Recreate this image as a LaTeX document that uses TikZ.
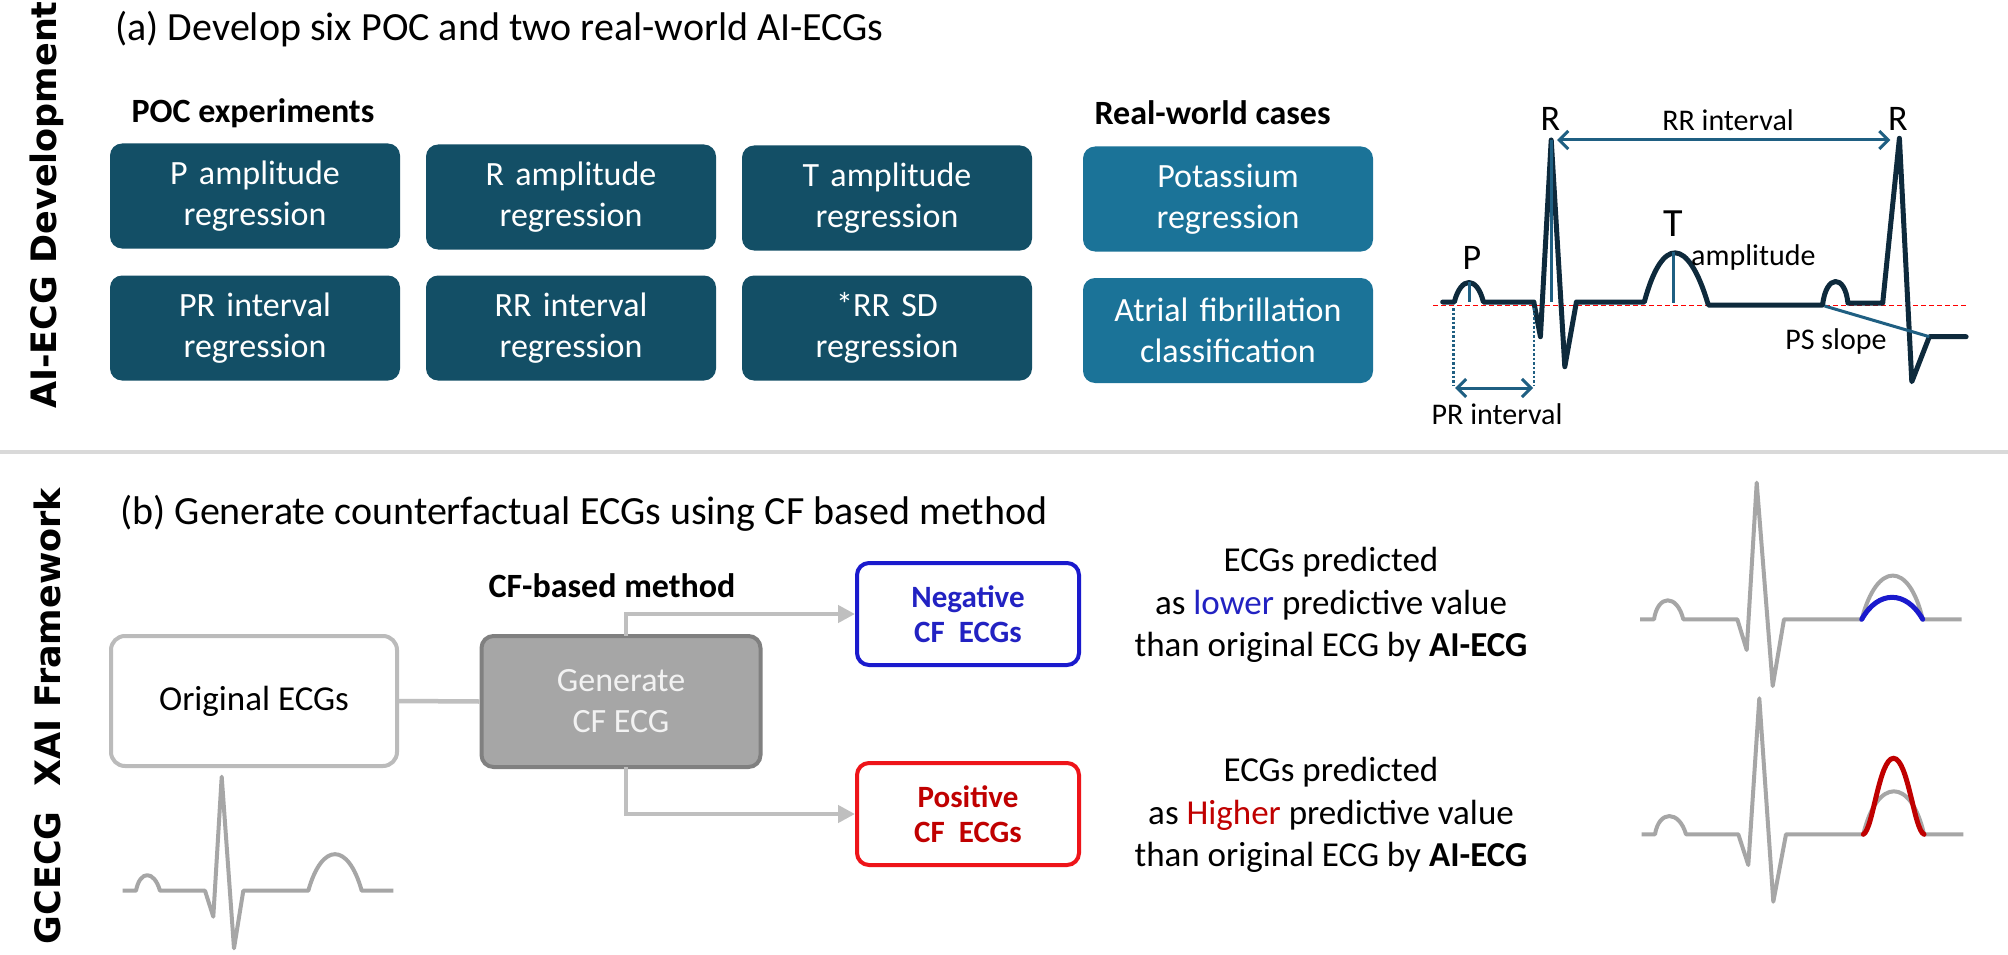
\documentclass[tikz,border=0pt]{standalone}
\usepackage{fontspec}
\setmainfont{Carlito}
\newfontfamily\vfont{DejaVu Sans}
\usetikzlibrary{arrows.meta}
\definecolor{poc}{HTML}{134F66}
\definecolor{rw}{HTML}{1B7398}
\definecolor{ecgc}{HTML}{0E2A3C}
\definecolor{ann}{HTML}{1F5F82}
\definecolor{lgray}{HTML}{A6A6A6}
\definecolor{cgray}{HTML}{BFBFBF}
\definecolor{bgray}{HTML}{808080}
\definecolor{obox}{HTML}{BBBBBB}
\definecolor{sepc}{HTML}{D9D9D9}
\definecolor{negc}{HTML}{1A1ACD}
\definecolor{negt}{HTML}{2222C2}
\definecolor{posc}{HTML}{EE1419}
\definecolor{post}{HTML}{C00000}
\begin{document}
\begin{tikzpicture}[x=1pt,y=-1pt,
  pocbox/.style={fill=poc, rounded corners=12pt, minimum width=290pt, minimum height=105pt,
    text width=285pt, align=center, text=white, inner sep=0pt, font=\fontsize{34}{41}\selectfont},
  rwbox/.style={pocbox, fill=rw},
  head/.style={anchor=west, font=\bfseries\fontsize{34}{40}\selectfont},
  title/.style={anchor=west, font=\fontsize{40}{48}\selectfont},
  vlabel/.style={rotate=90, font=\vfont\bfseries\fontsize{35}{40}\selectfont},
  ecgtrace/.style={draw=ecgc, line width=5pt, line join=round, line cap=round},
  annline/.style={draw=ann, line width=3pt},
  dim/.style={draw=ann, line width=3pt, {Straight Barb[length=9pt,width=18pt]}-{Straight Barb[length=9pt,width=18pt]}},
  lab/.style={font=\fontsize{30}{36}\selectfont, inner sep=0pt},
  conn/.style={draw=cgray, line width=4.5pt},
  arr/.style={conn, -{Triangle[length=17pt,width=17pt]}},
  graytrace/.style={draw=lgray, line width=4pt, line join=round},
  txt/.style={align=center, font=\fontsize{35}{42.5}\selectfont},
]
\useasboundingbox (0,0) rectangle (2008,955);
\fill[white] (0,0) rectangle (2008,955);

% ---------- Section (a) ----------
\node[vlabel] (va) at (47,205) {AI-ECG Development};
\node[title] (ta) at (112,29) {(a) Develop six POC and two real-world AI-ECGs};
\node[head] (hpoc) at (128,113) {POC experiments};
\node[head] (hrw) at (1091,113) {Real-world cases};

\node[pocbox] (b1) at (255,196) {P amplitude\\regression};
\node[pocbox] (b2) at (571,197) {R amplitude\\regression};
\node[pocbox] (b3) at (887,198) {T amplitude\\regression};
\node[pocbox] (b4) at (255,328) {PR interval\\regression};
\node[pocbox] (b5) at (571,328) {RR interval\\regression};
\node[pocbox] (b6) at (887,328) {*RR SD\\regression};
\node[rwbox] (r1) at (1228,199) {Potassium\\regression};
\node[rwbox] (r2) at (1228,330.5) {Atrial fibrillation\\classification};

% ECG diagram
\draw[red, line width=1.5pt, dash pattern=on 5pt off 3pt] (1433,305.5) -- (1968,305.5);
\coordinate (rp1) at (1551.2,140);
\coordinate (rp2) at (1899.4,138.3);
\coordinate (pp) at (1469,281.7);
\coordinate (tp) at (1673.4,251.7);
\draw[ecgtrace] (1442.7,302) -- (1454.3,302)
  .. controls (1461,276) and (1477,276) .. (1483.4,302)
  -- (1533.8,302) -- (1540.4,336.7) -- (rp1) -- (1564.8,366.7) -- (1576.4,302)
  -- (1644.3,302) .. controls (1662,236) and (1688,236) .. (1708.3,305)
  -- (1822.6,305) .. controls (1826,274) and (1845,274) .. (1847.9,303)
  -- (1882.7,303) -- (rp2) -- (1911.8,381.7) -- (1929.3,336.7) -- (1966.1,336.7);
\draw[annline] (pp) -- (1469,302);
\draw[annline] (tp) -- (1673.4,303);
\draw[annline] (rp1) -- (1551.2,302);
\draw[annline] (1824.6,306) -- (1929.3,336.7);
\draw[ann, line width=2.5pt, dotted] (1453.5,308) -- (1453.5,386);
\draw[ann, line width=2.5pt, dotted] (1534,308) -- (1534,386);
\draw[dim] (1455,388) -- (1533,388);
\draw[dim] ([xshift=6pt]rp1) -- ([xshift=-9pt]rp1 -| rp2);
\node[font=\fontsize{36}{40}\selectfont, inner sep=0pt] (lr1) at (1550.5,119) {R};
\node[font=\fontsize{36}{40}\selectfont, inner sep=0pt] (lr2) at (1898,119) {R};
\node[lab] (lrr) at (1728,120) {RR interval};
\node[font=\fontsize{40}{44}\selectfont, inner sep=0pt] (lt) at (1673,224) {T};
\node[font=\fontsize{36}{40}\selectfont, inner sep=0pt] (lp) at (1472,258) {P};
\node[lab, anchor=west] (lamp) at (1691,258) {amplitude};
\node[lab] (lps) at (1836,341) {PS slope};
\node[lab] (lpr) at (1497,414) {PR interval};

% separator
\draw[sepc, line width=4pt] (0,452) -- (2008,452);

% ---------- Section (b) ----------
\node[vlabel] (vb) at (47,716) {GCECG\ \ XAI Framework};
\node[title] (tb) at (117,513) {(b) Generate counterfactual ECGs using CF based method};
\node[font=\bfseries\fontsize{34}{40}\selectfont] (hcf) at (612,586) {CF-based method};

\node[draw=obox, line width=4pt, fill=white, rounded corners=14pt, minimum width=286pt,
  minimum height=130pt, font=\fontsize{35}{42}\selectfont] (orig) at (254,701) {Original ECGs};
\node[draw=bgray, line width=4pt, fill=lgray, rounded corners=12pt, minimum width=279pt,
  minimum height=131pt, align=center, text=white!95!black, font=\fontsize{34}{41}\selectfont] (gen) at (621,701.5) {Generate\\CF ECG};
\node[draw=negc, line width=4pt, fill=white, rounded corners=12pt, minimum width=222pt,
  minimum height=102pt, align=center, text=negt, font=\bfseries\fontsize{31}{35}\selectfont] (neg) at (968,614) {Negative\\CF\ \ ECGs};
\node[draw=posc, line width=4pt, fill=white, rounded corners=12pt, minimum width=222pt,
  minimum height=102pt, align=center, text=post, font=\bfseries\fontsize{31}{35}\selectfont] (pos) at (968,814) {Positive\\CF\ \ ECGs};

\draw[conn] (orig.east) -- (gen.west);
\draw[arr] ([xshift=5pt,yshift=-2pt]gen.north) |- (neg.west);
\draw[arr] ([xshift=5pt,yshift=2pt]gen.south) |- (pos.west);

\node[txt] (t1) at (1331,605) {ECGs predicted\\as \textcolor{negt}{lower} predictive value\\than original ECG by \textbf{AI-ECG}};
\node[txt] (t2) at (1331,815) {ECGs predicted\\as \textcolor{post}{Higher} predictive value\\than original ECG by \textbf{AI-ECG}};

% original ECG trace
\draw[graytrace] (122.7,890.7) -- (136,890.7) .. controls (140,870) and (154,870) .. (160,890.7)
  -- (205,890.7) -- (213.3,916.7) -- (221.7,776.7) -- (234,948.3) -- (243.3,890.7)
  -- (308.3,890.7) .. controls (322,842) and (348,842) .. (361.7,890.7) -- (393.3,890.7);

% upper right ECG
\draw[graytrace] (1640,619.3) -- (1654,619.3) .. controls (1658,594) and (1677,594) .. (1683.3,619.3)
  -- (1737.3,619.3) -- (1746.7,650) -- (1756.7,482.7) -- (1772.7,686) -- (1784,619.3)
  -- (1861.7,619.3) .. controls (1877,561) and (1909,561) .. (1922.7,619.3) -- (1961.7,619.3);
\draw[draw=negc, line width=5pt, line cap=round] (1861.7,619.3) .. controls (1878,590) and (1906,590) .. (1922.7,619.3);

% lower right ECG
\draw[graytrace] (1641.7,834.3) -- (1655,834.3) .. controls (1659,810) and (1679,810) .. (1686,834.3)
  -- (1738.3,834.3) -- (1748.3,865) -- (1759.3,698.3) -- (1773.3,901.7) -- (1786,834.3)
  -- (1863.3,834.3) .. controls (1877,777) and (1911,777) .. (1924,834.3) -- (1963.3,834.3);
\draw[draw=post, line width=5pt, line cap=round] (1863.3,834.3)
  .. controls (1873,830) and (1879,758.3) .. (1893.5,758.3)
  .. controls (1908,758.3) and (1914,830) .. (1924,834.3);
\end{tikzpicture}
\end{document}
